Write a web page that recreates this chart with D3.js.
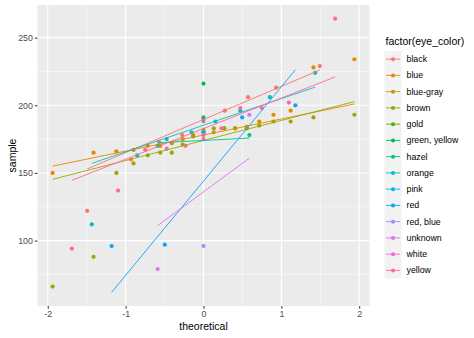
<!DOCTYPE html>
<html><head><meta charset="utf-8">
<script src="https://cdn.jsdelivr.net/npm/d3@7"></script>
<style>body{margin:0;background:#fff;} svg{display:block;font-family:"Liberation Sans",Arial,sans-serif;}</style>
</head><body>
<svg id="chart" width="474" height="338"></svg>
<script>
// ---- data ----
const groups = ["black","blue","blue-gray","brown","gold","green, yellow","hazel","orange","pink","red","red, blue","unknown","white","yellow"];
const colors = ["#F8766D","#E38900","#C49A00","#99A800","#53B400","#00BC56","#00C094","#00BFC4","#00B6EB","#06A4FF","#A58AFF","#DF70F8","#FB61D7","#FF66A8"];
// theoretical quantiles and sample values per group
const theoretical = [
  [-1.494,-0.932,-0.572,-0.274,0,0.274,0.572,0.932,1.494],
  [-1.938,-1.412,-1.119,-0.899,-0.716,-0.555,-0.407,-0.267,-0.132,0,0.132,0.267,0.407,0.555,0.716,0.899,1.119,1.412,1.938],
  [0],
  [-1.938,-1.412,-1.119,-0.899,-0.716,-0.555,-0.407,-0.267,-0.132,0,0.132,0.267,0.407,0.555,0.716,0.899,1.119,1.412,1.938],
  [0],
  [0],
  [-0.589,0.589],
  [-1.434,-0.852,-0.473,-0.153,0.153,0.473,0.852,1.434],
  [0],
  [-1.180,-0.497,0,0.497,1.180],
  [0],
  [-0.589,0.589],
  [0],
  [-1.691,-1.097,-0.748,-0.473,-0.230,0,0.230,0.473,0.748,1.097,1.691]
];
const sample = [
  [122,160,173,178,188,196,206,213,229],
  [150,165,166,167,170,170,172,175,178,180,180,183,183,184,188,193,196,228,234],
  [182],
  [66,88,150,157,163,165,165,171,177,180,183,183,183,183,185,188,188,191,193],
  [191],
  [216],
  [170,178],
  [112,163,175,180,188,196,206,224],
  [180],
  [96,97,190,191,200],
  [96],
  [79,193],
  [178],
  [94,137,167,168,170,175,183,198,198,202,264]
];
// qq-line endpoints per group (null = single point, no visible line)
const lineX1 = [-1.494,-1.938,null,-1.938,null,null,-0.589,-1.434,null,-1.180,null,-0.589,null,-1.691];
const lineY1 = [152.95,155.01,null,145.27,null,null,172.25,157.08,null,61.77,null,111.1,null,144.53];
const lineX2 = [1.494,1.938,null,1.938,null,null,0.589,1.434,null,1.180,null,0.589,null,1.691];
const lineY2 = [226.05,200.99,null,202.73,null,null,175.75,213.42,null,226.23,null,160.9,null,220.97];
const xTicks = [-2,-1,0,1,2];
const yTicks = [100,150,200,250];
const xMinor = [-1.5,-0.5,0.5,1.5];
const yMinor = [75,125,175,225];

// ---- layout ----
const svg = d3.select("#chart");
const P = {l:37.5, r:369.5, t:5, b:306};
const x = d3.scaleLinear().domain([-2.132,2.132]).range([P.l,P.r]);
const y = d3.scaleLinear().domain([51.66,274.11]).range([P.b,P.t]);

svg.append("rect").attr("x",P.l).attr("y",P.t).attr("width",P.r-P.l).attr("height",P.b-P.t).attr("fill","#EBEBEB");
const grid = svg.append("g");
xMinor.forEach(v=>grid.append("line").attr("x1",x(v)).attr("x2",x(v)).attr("y1",P.t).attr("y2",P.b).attr("stroke","#fff").attr("stroke-width",0.5));
yMinor.forEach(v=>grid.append("line").attr("y1",y(v)).attr("y2",y(v)).attr("x1",P.l).attr("x2",P.r).attr("stroke","#fff").attr("stroke-width",0.5));
xTicks.forEach(v=>grid.append("line").attr("x1",x(v)).attr("x2",x(v)).attr("y1",P.t).attr("y2",P.b).attr("stroke","#fff").attr("stroke-width",1.1));
yTicks.forEach(v=>grid.append("line").attr("y1",y(v)).attr("y2",y(v)).attr("x1",P.l).attr("x2",P.r).attr("stroke","#fff").attr("stroke-width",1.1));

// axes
const xAxis = svg.append("g").attr("transform",`translate(0,${P.b})`)
  .call(d3.axisBottom(x).tickValues(xTicks).tickSize(2.7).tickPadding(2).tickFormat(d3.format("d")));
const yAxis = svg.append("g").attr("transform",`translate(${P.l},0)`)
  .call(d3.axisLeft(y).tickValues(yTicks).tickSize(2.7).tickPadding(2).tickFormat(d3.format("d")));
[xAxis,yAxis].forEach(a=>{
  a.select(".domain").remove();
  a.selectAll(".tick line").attr("stroke","#333").attr("stroke-width",1);
  a.selectAll(".tick text").attr("fill","#4D4D4D").style("font-size","8.8px").style("font-family","Liberation Sans, Arial, sans-serif");
});
xAxis.selectAll(".tick text").text(d=> d<0 ? "-"+Math.abs(d) : d);

// axis titles
svg.append("text").attr("x",(P.l+P.r)/2).attr("y",330).attr("text-anchor","middle").attr("font-size","10.5px").attr("fill","#000").text("theoretical");
svg.append("text").attr("transform",`translate(15.5,${(P.t+P.b)/2}) rotate(-90)`).attr("text-anchor","middle").attr("font-size","10.5px").attr("fill","#000").text("sample");

// points
svg.append("defs").append("clipPath").attr("id","pc").append("rect").attr("x",P.l).attr("y",P.t).attr("width",P.r-P.l).attr("height",P.b-P.t);
const plot = svg.append("g").attr("clip-path","url(#pc)");
groups.forEach((g,i)=>{
  theoretical[i].forEach((t,j)=>{
    plot.append("circle").attr("cx",x(t)).attr("cy",y(sample[i][j])).attr("r",2.1).attr("fill",colors[i]);
  });
});
// qq lines
groups.forEach((g,i)=>{
  if(lineX1[i]===null) return;
  plot.append("line").attr("x1",x(lineX1[i])).attr("y1",y(lineY1[i])).attr("x2",x(lineX2[i])).attr("y2",y(lineY2[i]))
    .attr("stroke",colors[i]).attr("stroke-width",0.9);
});

// legend
const L = svg.append("g");
L.append("text").attr("x",385.5).attr("y",45).attr("font-size","10.5px").attr("fill","#000").text("factor(eye_color)");
const rowH = 16.25, top0 = 51;
groups.forEach((g,i)=>{
  const yy = top0 + i*rowH;
  L.append("rect").attr("x",384.5).attr("y",yy).attr("width",17).attr("height",rowH).attr("fill","#F2F2F2");
  L.append("line").attr("x1",386).attr("x2",400).attr("y1",yy+rowH/2).attr("y2",yy+rowH/2).attr("stroke",colors[i]).attr("stroke-width",0.9);
  L.append("circle").attr("cx",393).attr("cy",yy+rowH/2).attr("r",2).attr("fill",colors[i]);
  L.append("text").attr("x",406.5).attr("y",yy+rowH/2+3.1).attr("font-size","8.8px").attr("fill","#000").text(g);
});
</script>
</body></html>
